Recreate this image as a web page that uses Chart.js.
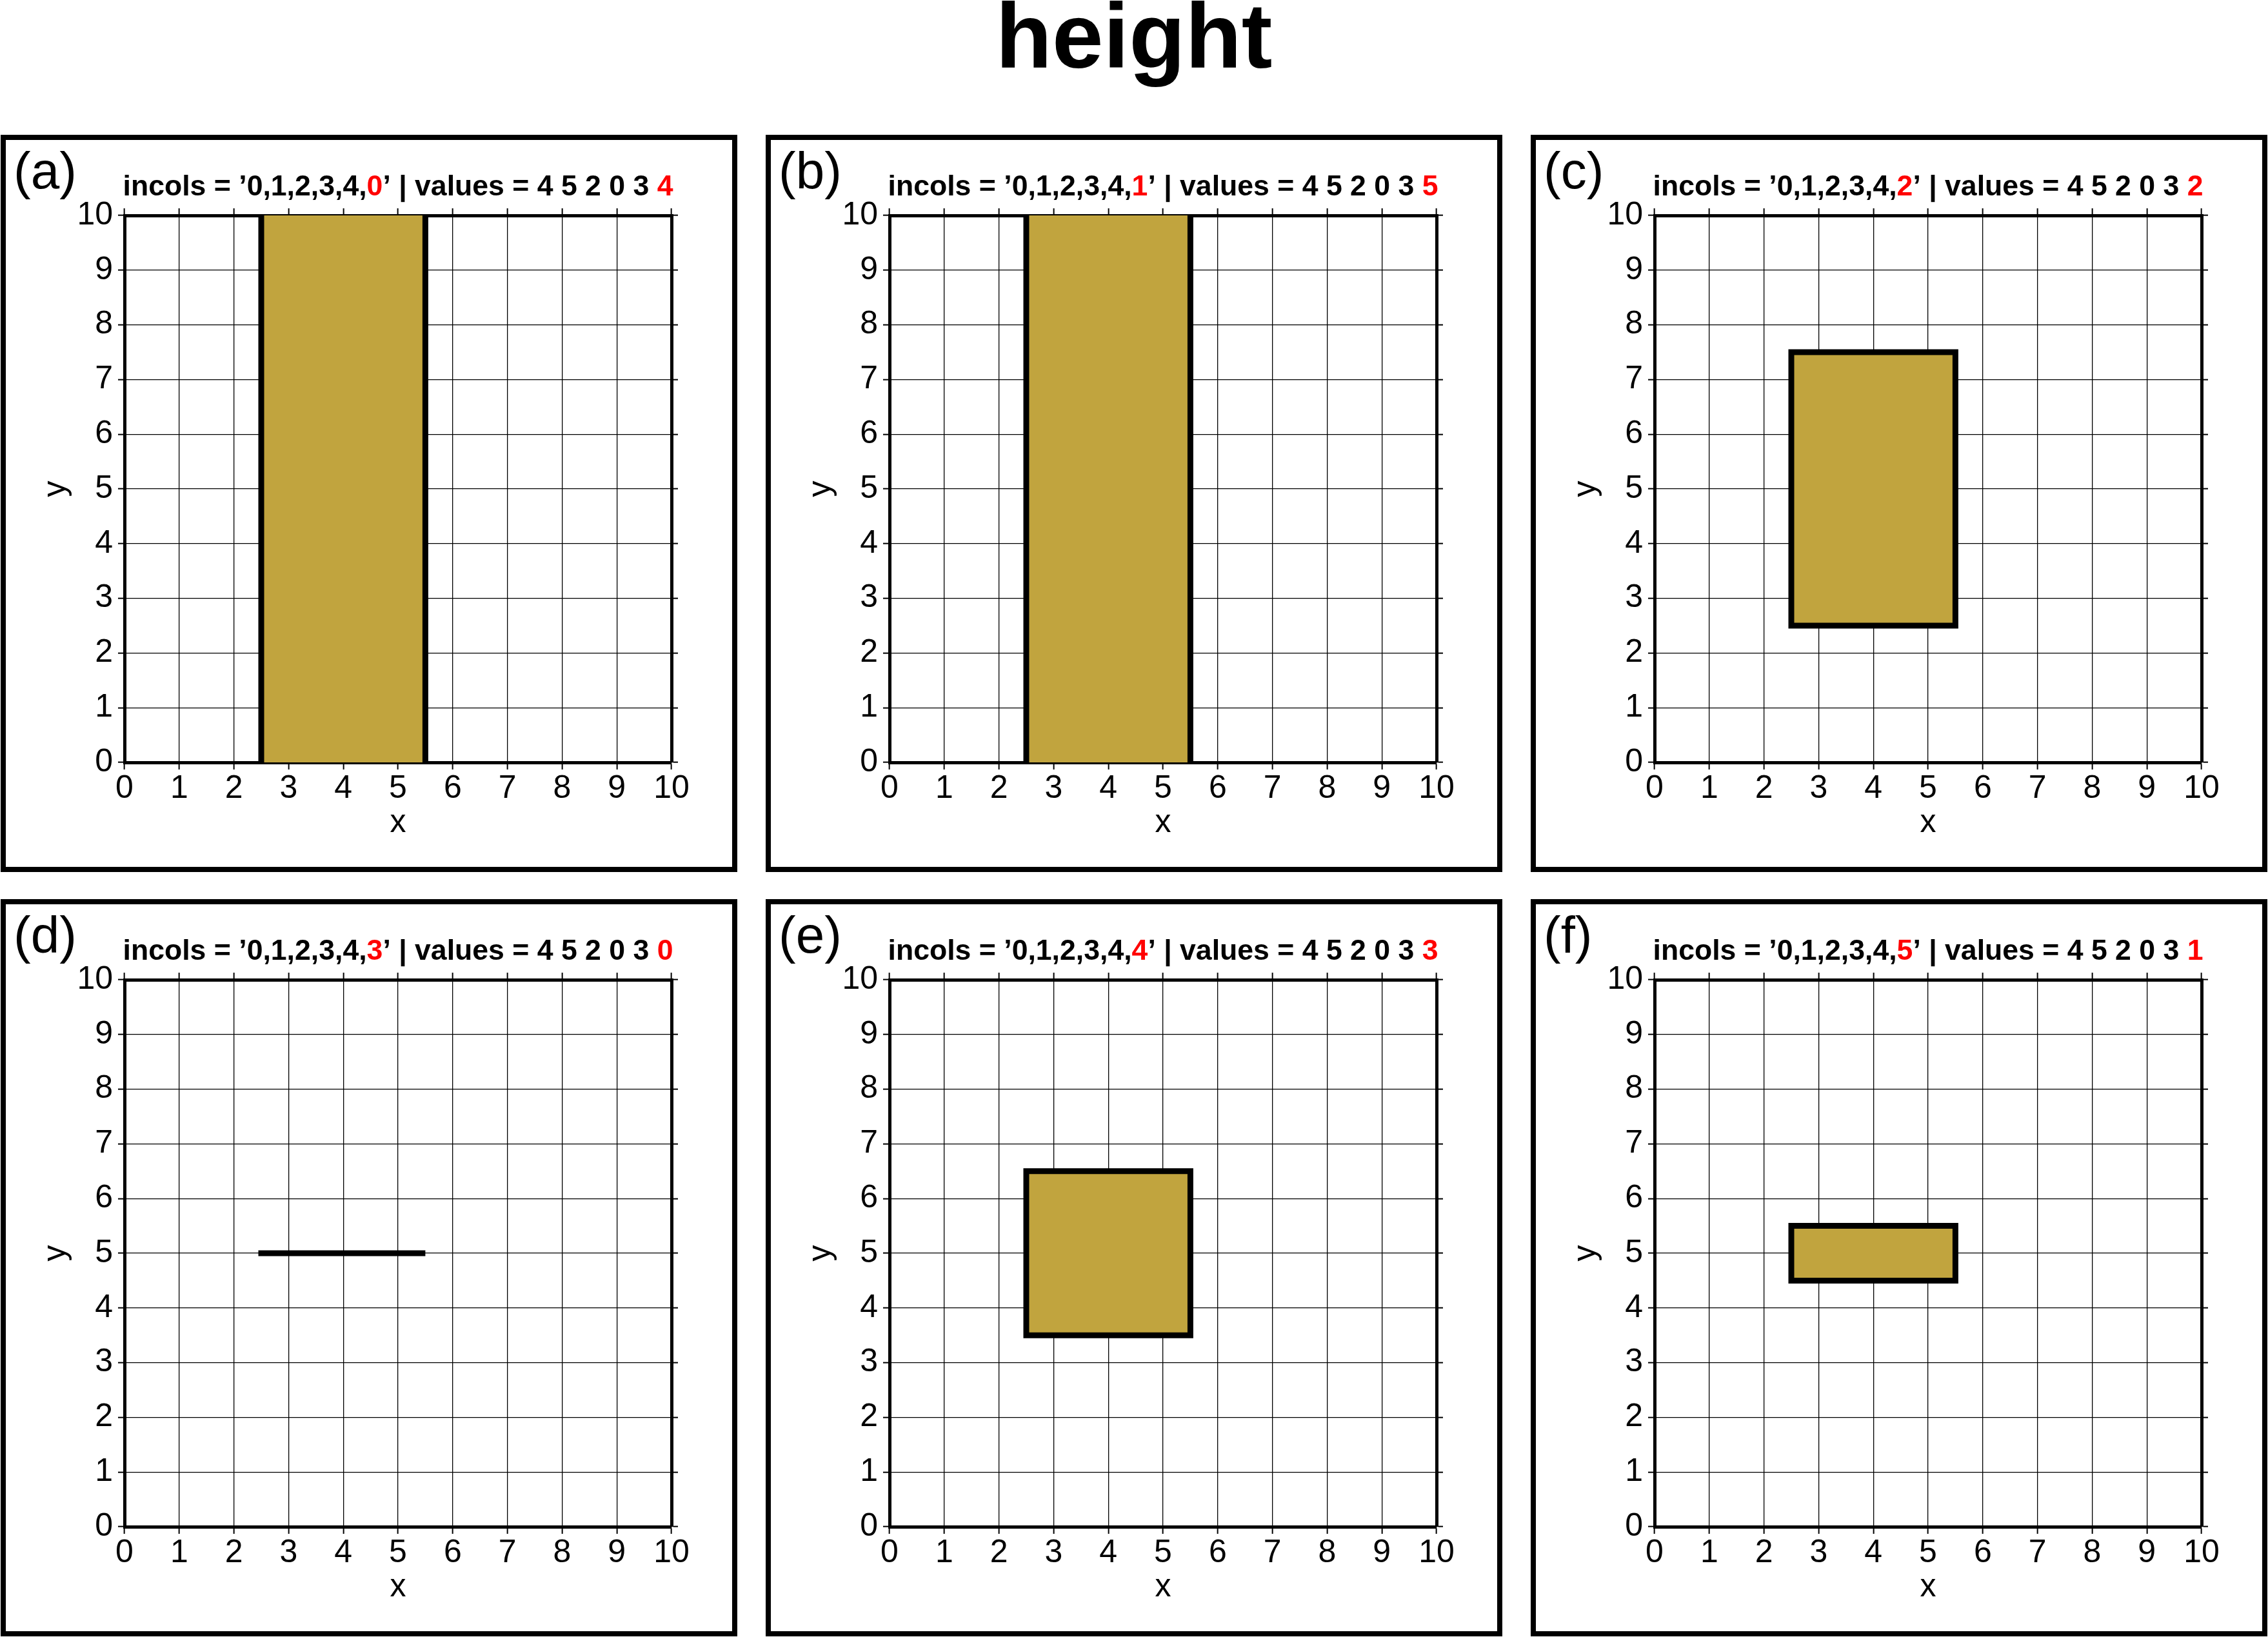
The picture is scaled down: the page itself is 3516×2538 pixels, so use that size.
<!DOCTYPE html>
<html>
<head>
<meta charset="utf-8">
<script src="https://cdn.jsdelivr.net/npm/chart.js@4.4.1/dist/chart.umd.min.js"></script>
<style>
  body { margin: 0; background: #fff; width: 3516px; height: 2538px; position: relative; overflow: hidden; }
  #mainTitle { position: absolute; left: 0; top: -16px; width: 3516px; text-align: center;
    font: bold 143px "Liberation Sans", Arial, sans-serif; line-height: 143px; color: #000; }
  .panel { position: absolute; width: 1142px; height: 1143px; }
  .panel canvas { position: absolute; left: 0; top: 0; }
  .frame { position: absolute; left: 0; top: 0; width: 1142px; height: 1143px; box-sizing: border-box;
    border: 8px solid #000; pointer-events: none; }
</style>
</head>
<body>
<div id="mainTitle">height</div>

<script>
// data row read by each panel, and which column is used as the height
const panelLetters = ['a', 'b', 'c', 'd', 'e', 'f'];
const rowValues = [4, 5, 2, 0, 3, 1];
const heightColumn = [0, 1, 2, 3, 4, 5];

// rectangle as drawn in each panel (x, y centre, width, height in data units)
const rectX = 4;
const rectY = 5;
const rectWidth = 3;
const rectHeights = [12, 12, 5, 0, 3, 1];

const axisMin = 0;
const axisMax = 10;
const axisStep = 1;

const FILL = 'rgb(193,164,62)';
const FONT = '"Liberation Sans", Arial, sans-serif';

const panelLeft = [1, 1187, 2373];
const panelTop = [209, 1394];
const PW = 1142, PH = 1143;
const PLOT_L = 192, PLOT_T = 125, PLOT = 848;

// label "(a)" and the coloured subtitle
const panelText = {
    id: 'panelText',
    afterDraw(chart, args, opts) {
        const ctx = chart.ctx;
        ctx.save();
        ctx.fillStyle = '#000';
        ctx.textBaseline = 'alphabetic';
        ctx.textAlign = 'left';
        ctx.font = '80px ' + FONT;
        ctx.fillText('(' + opts.letter + ')', 20, 83);

        const parts = [
            ['incols = \u20190,1,2,3,4,', '#000'],
            [String(opts.col), '#ff0000'],
            ['\u2019 | values = ' + rowValues.slice(0, 5).join(' ') + ' ', '#000'],
            [String(opts.val), '#ff0000']
        ];
        ctx.font = 'bold 44.6px ' + FONT;
        let total = 0;
        parts.forEach(p => total += ctx.measureText(p[0]).width);
        const area = chart.chartArea;
        let x = (area.left + area.right) / 2 - total / 2;
        parts.forEach(p => {
            ctx.fillStyle = p[1];
            ctx.fillText(p[0], x, 94);
            x += ctx.measureText(p[0]).width;
        });
        ctx.restore();
    }
};

function axisOpts(pos, size, withLabels, title) {
    const horizontal = pos === 'top' || pos === 'bottom';
    return {
        type: 'linear',
        position: pos,
        min: axisMin,
        max: axisMax,
        afterFit: s => { if (horizontal) s.height = size; else s.width = size; },
        ticks: {
            display: withLabels,
            stepSize: axisStep,
            autoSkip: false,
            color: '#000',
            font: { family: FONT, size: 50 },
            padding: horizontal ? 0 : 8
        },
        grid: {
            display: true,
            drawOnChartArea: withLabels,
            color: '#000',
            lineWidth: 1.3,
            tickLength: horizontal ? 11 : 10,
            tickWidth: 2,
            tickColor: '#000'
        },
        border: { display: true, color: '#000', width: 5 },
        title: title ? {
            display: true,
            text: title,
            color: '#000',
            font: { family: FONT, size: 50 },
            padding: horizontal ? { top: 0, bottom: 46 } : { top: 56, bottom: 0 }
        } : { display: false }
    };
}

function rectPoints(h) {
    const x0 = rectX - rectWidth / 2, x1 = rectX + rectWidth / 2;
    const y0 = rectY - h / 2, y1 = rectY + h / 2;
    return [
        { x: x0, y: y0 }, { x: x1, y: y0 }, { x: x1, y: y1 },
        { x: x0, y: y1 }, { x: x0, y: y0 }
    ];
}

panelLetters.forEach((letter, i) => {
    const div = document.createElement('div');
    div.className = 'panel';
    div.style.left = panelLeft[i % 3] + 'px';
    div.style.top = panelTop[Math.floor(i / 3)] + 'px';
    const canvas = document.createElement('canvas');
    canvas.width = PW;
    canvas.height = PH;
    canvas.style.width = PW + 'px';
    canvas.style.height = PH + 'px';
    div.appendChild(canvas);
    const frame = document.createElement('div');
    frame.className = 'frame';
    div.appendChild(frame);
    document.body.appendChild(div);

    new Chart(canvas.getContext('2d'), {
        type: 'line',
        data: {
            datasets: [{
                data: rectPoints(rectHeights[i]),
                borderColor: '#000',
                borderWidth: 9,
                borderJoinStyle: 'miter',
                borderCapStyle: 'square',
                backgroundColor: FILL,
                fill: 'shape',
                pointRadius: 0,
                tension: 0,
                clip: 0
            }]
        },
        options: {
            responsive: false,
            animation: false,
            devicePixelRatio: 1,
            layout: { padding: 0 },
            plugins: {
                legend: { display: false },
                tooltip: { enabled: false },
                panelText: { letter: letter, col: heightColumn[i], val: rowValues[heightColumn[i]] }
            },
            scales: {
                x: axisOpts('bottom', PH - PLOT_T - PLOT, true, 'x'),
                x2: axisOpts('top', PLOT_T, false, null),
                y: axisOpts('left', PLOT_L, true, 'y'),
                y2: axisOpts('right', PW - PLOT_L - PLOT, false, null)
            }
        },
        plugins: [panelText]
    });
});
</script>
</body>
</html>
